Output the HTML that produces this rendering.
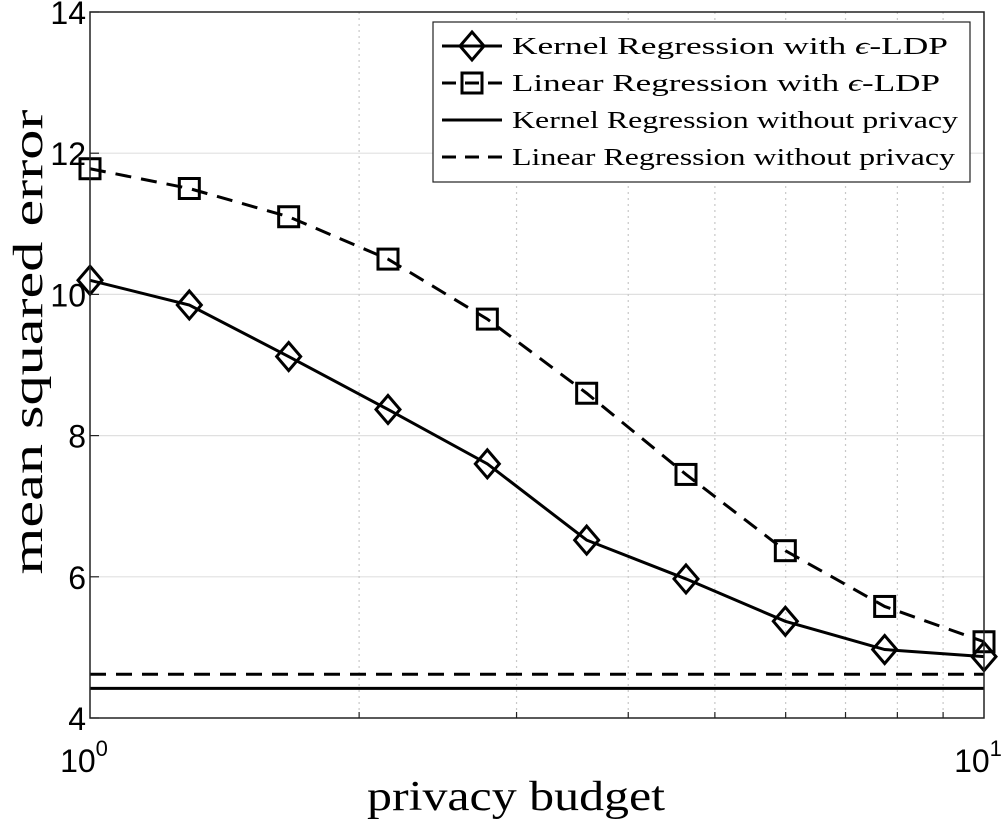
<!DOCTYPE html>
<html><head><meta charset="utf-8"><style>
body{margin:0;background:#fff}
svg{display:block}
</style></head><body>
<svg id="chart" width="1002" height="820" xmlns="http://www.w3.org/2000/svg">
<g id="grid"></g>
<g id="series"></g>
<rect x="90" y="12" width="894" height="706" fill="none" stroke="#222" stroke-width="1.5"/>
<g id="ticks" font-family="Liberation Sans, sans-serif" font-size="32" fill="#000"></g>
<text x="516" y="810" text-anchor="middle" font-family="Liberation Serif, serif" font-size="42" textLength="298" lengthAdjust="spacingAndGlyphs">privacy budget</text>
<text transform="translate(42,342) rotate(-90)" text-anchor="middle" font-family="Liberation Serif, serif" font-size="42" textLength="465" lengthAdjust="spacingAndGlyphs">mean squared error</text>
<g>
<rect x="433" y="22" width="537" height="160" fill="#fff" stroke="#222" stroke-width="1.2"/>
<g>
<line x1="442" y1="46" x2="502" y2="46" stroke="#000" stroke-width="3"/>
<path d="M472 32 L484 46 L472 60 L460 46 Z" fill="none" stroke="#000" stroke-width="3"/>
<text x="512" y="54" font-family="Liberation Serif, serif" font-size="24" textLength="436" lengthAdjust="spacingAndGlyphs">Kernel Regression with <tspan font-style="italic">ϵ</tspan>-LDP</text></g>
<g>
<line x1="442" y1="83" x2="502" y2="83" stroke="#000" stroke-width="3" stroke-dasharray="14,9"/>
<rect x="462" y="73" width="20" height="20" fill="none" stroke="#000" stroke-width="3"/>
<text x="512" y="91" font-family="Liberation Serif, serif" font-size="24" textLength="428" lengthAdjust="spacingAndGlyphs">Linear Regression with <tspan font-style="italic">ϵ</tspan>-LDP</text></g>
<g>
<line x1="442" y1="120" x2="502" y2="120" stroke="#000" stroke-width="3"/>
<text x="512" y="128" font-family="Liberation Serif, serif" font-size="24" textLength="446" lengthAdjust="spacingAndGlyphs">Kernel Regression without privacy</text></g>
<g>
<line x1="442" y1="157" x2="502" y2="157" stroke="#000" stroke-width="3" stroke-dasharray="14,9"/>
<text x="512" y="165" font-family="Liberation Serif, serif" font-size="24" textLength="443" lengthAdjust="spacingAndGlyphs">Linear Regression without privacy</text></g>
</g>
</svg>
<script>
const xValues=[1,1.2915,1.6681,2.1544,2.7826,3.5938,4.6416,5.9948,7.7426,10];
const kernelLDP=[10.2,9.85,9.12,8.37,7.6,6.52,5.97,5.37,4.97,4.87];
const linearLDP=[11.78,11.5,11.1,10.5,9.65,8.6,7.45,6.37,5.58,5.08];
const kernelNoPrivacy=[4.42];
const linearNoPrivacy=[4.62];
const yTicks=[4,6,8,10,12,14];
const NS='http://www.w3.org/2000/svg';
const X0=90,X1=984,Y0=718,Y1=12;
const sx=v=>X0+(X1-X0)*Math.log10(v);
const sy=v=>Y0-(v-4)/10*(Y0-Y1);
function mk(tag,attrs,parent){const e=document.createElementNS(NS,tag);for(const k in attrs)e.setAttribute(k,attrs[k]);parent.appendChild(e);return e;}
const grid=document.getElementById('grid'),ticks=document.getElementById('ticks'),series=document.getElementById('series');
yTicks.forEach(t=>{
 if(t>4&&t<14){const g=mk('line',{x1:X0,x2:X1,y1:sy(t),y2:sy(t),stroke:'#e0e0e0','stroke-width':1.2},grid);
 
 }
 const tk=mk('line',{x1:X0,x2:X0+9,y1:sy(t),y2:sy(t),stroke:'#222','stroke-width':1.2},ticks);
 
 
 const lb=mk('text',{x:X0-4,y:sy(t)+12,'text-anchor':'end'},ticks);lb.textContent=t;
 
 
});
for(let m=2;m<=9;m++){
 const x=sx(m);
 const g=mk('line',{x1:x,x2:x,y1:Y1,y2:Y0,stroke:'#c8c8c8','stroke-width':1.2,'stroke-dasharray':'2,4'},grid);
 
 
 const tk=mk('line',{x1:x,x2:x,y1:Y0,y2:Y0-6,stroke:'#222','stroke-width':1.2},ticks);
 
 
}
[[1,'0'],[10,'1']].forEach(([v,e])=>{
 const t=mk('text',{x:sx(v)-6,y:772,'text-anchor':'middle'},ticks);
 t.textContent='10';
 
 
 const s=mk('tspan',{dy:-16,'font-size':22},t);s.textContent=e;
});
const h1=mk('line',{x1:X0,x2:X1,y1:sy(linearNoPrivacy[0]),y2:sy(linearNoPrivacy[0]),stroke:'#000','stroke-width':3,'stroke-dasharray':'16,10'},series);


const h2=mk('line',{x1:X0,x2:X1,y1:sy(kernelNoPrivacy[0]),y2:sy(kernelNoPrivacy[0]),stroke:'#000','stroke-width':3},series);


function line(vals,dash,name){
 const p=mk('polyline',{points:vals.map((v,i)=>sx(xValues[i])+','+sy(v)).join(' '),fill:'none',stroke:'#000','stroke-width':3,'stroke-dasharray':dash},series);
 
 
}
line(linearLDP,'16,10','linear-ldp-line');
line(kernelLDP,'none','kernel-ldp-line');
linearLDP.forEach((v,i)=>{const x=sx(xValues[i]),y=sy(v);
 const r=mk('rect',{x:x-10,y:y-10,width:20,height:20,fill:'none',stroke:'#000','stroke-width':3},series);
 
 });
kernelLDP.forEach((v,i)=>{const x=sx(xValues[i]),y=sy(v);
 const d=mk('path',{d:`M${x} ${y-14} L${x+12} ${y} L${x} ${y+14} L${x-12} ${y} Z`,fill:'none',stroke:'#000','stroke-width':3},series);
 
 });
</script>
</body></html>
